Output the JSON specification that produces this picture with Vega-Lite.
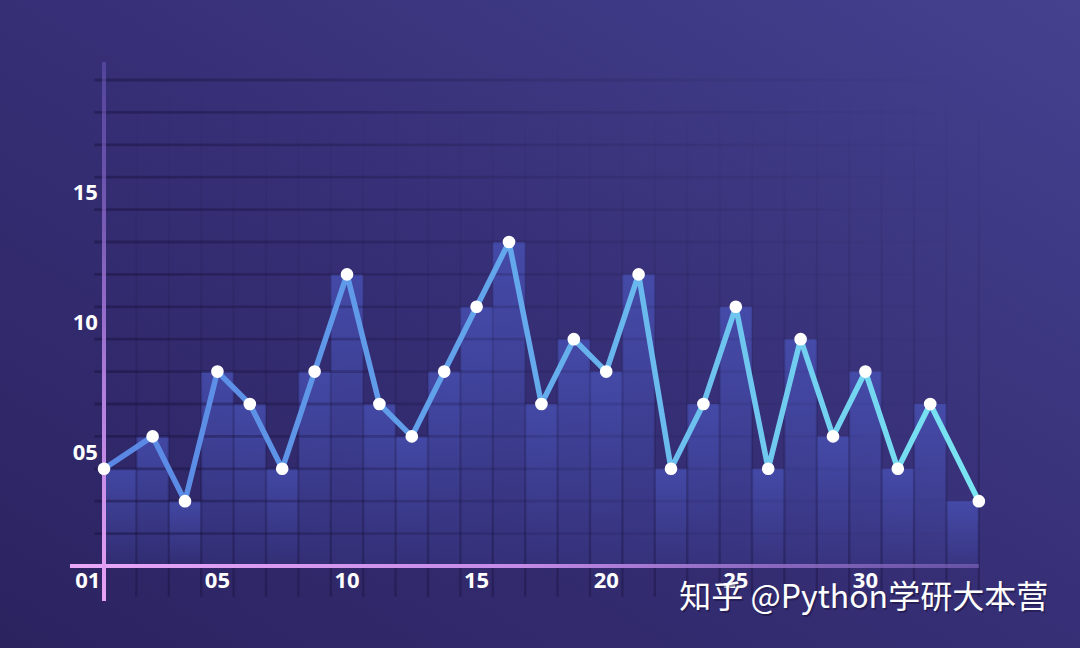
{
  "$schema": "https://vega.github.io/schema/vega-lite/v6.json",
  "width": 1080,
  "height": 648,
  "autosize": {"type": "none"},
  "padding": 0,
  "background": "#332b70",
  "config": {
    "view": {
      "stroke": null,
      "fill": {
        "gradient": "linear", "x1": 0, "y1": 1, "x2": 1, "y2": 0,
        "stops": [
          {"offset": 0, "color": "#2b2360"},
          {"offset": 0.5, "color": "#362f76"},
          {"offset": 1, "color": "#45418f"}
        ]
      }
    }
  },
  "datasets": {
    "bars": [
      {"s": 0, "e": 1, "v": 3}, {"s": 1, "e": 2, "v": 4}, {"s": 2, "e": 3, "v": 2},
      {"s": 3, "e": 4, "v": 6}, {"s": 4, "e": 5, "v": 5}, {"s": 5, "e": 6, "v": 3},
      {"s": 6, "e": 7, "v": 6}, {"s": 7, "e": 8, "v": 9}, {"s": 8, "e": 9, "v": 5},
      {"s": 9, "e": 10, "v": 4}, {"s": 10, "e": 11, "v": 6}, {"s": 11, "e": 12, "v": 8},
      {"s": 12, "e": 13, "v": 10}, {"s": 13, "e": 14, "v": 5}, {"s": 14, "e": 15, "v": 7},
      {"s": 15, "e": 16, "v": 6}, {"s": 16, "e": 17, "v": 9}, {"s": 17, "e": 18, "v": 3},
      {"s": 18, "e": 19, "v": 5}, {"s": 19, "e": 20, "v": 8}, {"s": 20, "e": 21, "v": 3},
      {"s": 21, "e": 22, "v": 7}, {"s": 22, "e": 23, "v": 4}, {"s": 23, "e": 24, "v": 6},
      {"s": 24, "e": 25, "v": 3}, {"s": 25, "e": 26, "v": 5}, {"s": 26, "e": 27, "v": 2}
    ],
    "pts": [
      {"u": 0, "v": 3}, {"u": 1.5, "v": 4}, {"u": 2.5, "v": 2}, {"u": 3.5, "v": 6},
      {"u": 4.5, "v": 5}, {"u": 5.5, "v": 3}, {"u": 6.5, "v": 6}, {"u": 7.5, "v": 9},
      {"u": 8.5, "v": 5}, {"u": 9.5, "v": 4}, {"u": 10.5, "v": 6}, {"u": 11.5, "v": 8},
      {"u": 12.5, "v": 10}, {"u": 13.5, "v": 5}, {"u": 14.5, "v": 7}, {"u": 15.5, "v": 6},
      {"u": 16.5, "v": 9}, {"u": 17.5, "v": 3}, {"u": 18.5, "v": 5}, {"u": 19.5, "v": 8},
      {"u": 20.5, "v": 3}, {"u": 21.5, "v": 7}, {"u": 22.5, "v": 4}, {"u": 23.5, "v": 6},
      {"u": 24.5, "v": 3}, {"u": 25.5, "v": 5}, {"u": 27, "v": 2}
    ],
    "vgrid": [
      {"u": 0}, {"u": 1}, {"u": 2}, {"u": 3}, {"u": 4}, {"u": 5}, {"u": 6}, {"u": 7},
      {"u": 8}, {"u": 9}, {"u": 10}, {"u": 11}, {"u": 12}, {"u": 13}, {"u": 14}, {"u": 15},
      {"u": 16}, {"u": 17}, {"u": 18}, {"u": 19}, {"u": 20}, {"u": 21}, {"u": 22}, {"u": 23},
      {"u": 24}, {"u": 25}, {"u": 26}, {"u": 27}
    ],
    "hgrid": [
      {"v": 1}, {"v": 2}, {"v": 3}, {"v": 4}, {"v": 5}, {"v": 6}, {"v": 7}, {"v": 8},
      {"v": 9}, {"v": 10}, {"v": 11}, {"v": 12}, {"v": 13}, {"v": 14}, {"v": 15}
    ],
    "xlabels": [
      {"u": -0.5, "lab": "01"}, {"u": 3.5, "lab": "05"}, {"u": 7.5, "lab": "10"},
      {"u": 11.5, "lab": "15"}, {"u": 15.5, "lab": "20"}, {"u": 19.5, "lab": "25"},
      {"u": 23.5, "lab": "30"}
    ],
    "ylabels": [
      {"v": 3.5, "lab": "05"}, {"v": 7.5, "lab": "10"}, {"v": 11.5, "lab": "15"}
    ],
    "one": [{}],
    "wm": [{"label": "知乎 @Python学研大本营"}]
  },
  "layer": [
    {
      "data": {"name": "bars"},
      "mark": {
        "type": "rect",
        "fill": {
          "gradient": "linear", "x1": 0, "y1": 0, "x2": 0, "y2": 1,
          "stops": [
            {"offset": 0, "color": "rgba(74,86,190,0.68)"},
            {"offset": 1, "color": "rgba(74,86,190,0.14)"}
          ]
        }
      },
      "encoding": {
        "x": {"field": "s", "type": "quantitative", "axis": null,
              "scale": {"domain": [-3.21, 30.123], "nice": false, "zero": false}},
        "x2": {"field": "e"},
        "y": {"field": "v", "type": "quantitative", "axis": null,
              "scale": {"domain": [-2.531, 17.469], "nice": false, "zero": false}},
        "y2": {"datum": 0}
      }
    },
    {
      "data": {"name": "vgrid"},
      "mark": {
        "type": "rect", "xOffset": -1.2, "x2Offset": 1.2,
        "fill": {
          "gradient": "linear", "x1": 0, "y1": 1, "x2": 0, "y2": 0,
          "stops": [
            {"offset": 0, "color": "rgba(22,15,58,0.38)"},
            {"offset": 0.45, "color": "rgba(22,15,58,0.16)"},
            {"offset": 1, "color": "rgba(22,15,58,0.0)"}
          ]
        }
      },
      "encoding": {
        "x": {"field": "u", "type": "quantitative", "axis": null},
        "x2": {"field": "u"},
        "y": {"datum": -0.95, "type": "quantitative", "axis": null},
        "y2": {"datum": 15.2}
      }
    },
    {
      "data": {"name": "hgrid"},
      "mark": {
        "type": "rect", "yOffset": -1.4, "y2Offset": 1.4,
        "fill": {
          "gradient": "linear", "x1": 0, "y1": 0, "x2": 1, "y2": 0,
          "stops": [
            {"offset": 0, "color": "rgba(22,15,58,0.45)"},
            {"offset": 0.5, "color": "rgba(22,15,58,0.16)"},
            {"offset": 1, "color": "rgba(22,15,58,0.0)"}
          ]
        }
      },
      "encoding": {
        "x": {"datum": -0.3, "type": "quantitative", "axis": null},
        "x2": {"datum": 27.6},
        "y": {"field": "v", "type": "quantitative", "axis": null},
        "y2": {"field": "v"}
      }
    },
    {
      "data": {"name": "one"},
      "mark": {
        "type": "rect", "yOffset": -2, "y2Offset": 2,
        "fill": {
          "gradient": "linear", "x1": 0, "y1": 0, "x2": 1, "y2": 0,
          "stops": [
            {"offset": 0, "color": "#eaa8f8"},
            {"offset": 0.5, "color": "#c38ae6"},
            {"offset": 1, "color": "rgba(140,110,200,0.55)"}
          ]
        }
      },
      "encoding": {
        "x": {"datum": -1.05, "type": "quantitative", "axis": null},
        "x2": {"datum": 27},
        "y": {"datum": 0, "type": "quantitative", "axis": null},
        "y2": {"datum": 0}
      }
    },
    {
      "data": {"name": "one"},
      "mark": {
        "type": "rect", "xOffset": -2, "x2Offset": 2,
        "fill": {
          "gradient": "linear", "x1": 0, "y1": 1, "x2": 0, "y2": 0,
          "stops": [
            {"offset": 0, "color": "#e8a4f5"},
            {"offset": 0.4, "color": "#b07ddc"},
            {"offset": 1, "color": "rgba(120,95,200,0.45)"}
          ]
        }
      },
      "encoding": {
        "x": {"datum": 0, "type": "quantitative", "axis": null},
        "x2": {"datum": 0},
        "y": {"datum": -1.08, "type": "quantitative", "axis": null},
        "y2": {"datum": 15.55}
      }
    },
    {
      "data": {"name": "pts"},
      "mark": {
        "type": "line", "strokeWidth": 5.5, "strokeJoin": "round",
        "stroke": {
          "gradient": "linear", "x1": 0, "y1": 0, "x2": 1, "y2": 0,
          "stops": [
            {"offset": 0, "color": "#5a86e4"},
            {"offset": 0.45, "color": "#63a6ec"},
            {"offset": 1, "color": "#7ae6f2"}
          ]
        }
      },
      "encoding": {
        "x": {"field": "u", "type": "quantitative", "axis": null},
        "y": {"field": "v", "type": "quantitative", "axis": null}
      }
    },
    {
      "data": {"name": "pts"},
      "mark": {"type": "circle", "size": 160, "fill": "#ffffff", "opacity": 1},
      "encoding": {
        "x": {"field": "u", "type": "quantitative", "axis": null},
        "y": {"field": "v", "type": "quantitative", "axis": null}
      }
    },
    {
      "data": {"name": "xlabels"},
      "mark": {
        "type": "text", "align": "center", "baseline": "middle",
        "font": "Open Sans", "fontSize": 22, "fontWeight": 700, "fill": "#ffffff"
      },
      "encoding": {
        "x": {"field": "u", "type": "quantitative", "axis": null},
        "y": {"datum": -0.46, "type": "quantitative", "axis": null},
        "text": {"field": "lab"}
      }
    },
    {
      "data": {"name": "ylabels"},
      "mark": {
        "type": "text", "align": "right", "baseline": "middle",
        "font": "Open Sans", "fontSize": 22, "fontWeight": 700, "fill": "#ffffff"
      },
      "encoding": {
        "x": {"datum": -0.19, "type": "quantitative", "axis": null},
        "y": {"field": "v", "type": "quantitative", "axis": null},
        "text": {"field": "lab"}
      }
    },
    {
      "data": {"name": "wm"},
      "mark": {
        "type": "text", "align": "right", "baseline": "middle", "dx": 1.5, "dy": 1.5,
        "font": "Noto Sans CJK SC", "fontSize": 32, "fill": "#150f35", "opacity": 0.45
      },
      "encoding": {
        "x": {"datum": 29.14, "type": "quantitative", "axis": null},
        "y": {"datum": -0.99, "type": "quantitative", "axis": null},
        "text": {"field": "label"}
      }
    },
    {
      "data": {"name": "wm"},
      "mark": {
        "type": "text", "align": "right", "baseline": "middle",
        "font": "Noto Sans CJK SC", "fontSize": 32, "fill": "#ffffff"
      },
      "encoding": {
        "x": {"datum": 29.14, "type": "quantitative", "axis": null},
        "y": {"datum": -0.99, "type": "quantitative", "axis": null},
        "text": {"field": "label"}
      }
    }
  ]
}
